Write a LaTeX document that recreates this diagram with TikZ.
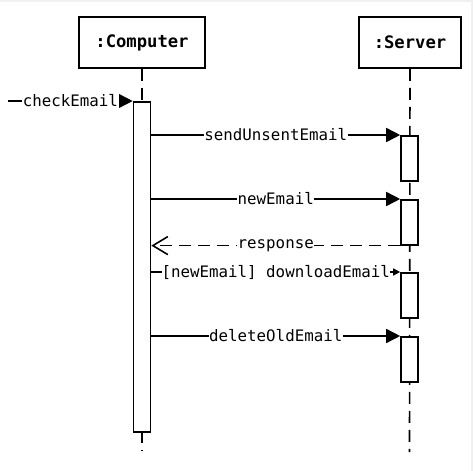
\documentclass[tikz,border=0pt]{standalone}
\usepackage{fontspec}
\setmonofont{DejaVu Sans Mono}
\usetikzlibrary{arrows.meta}
\begin{document}
\begin{tikzpicture}[x=1pt,y=-1pt,line width=1.6pt,
  obj/.style={draw,fill=white,inner sep=0pt,minimum height=51pt,font=\ttfamily\bfseries\fontsize{17.2}{20}\selectfont},
  act/.style={draw,fill=white,inner sep=0pt,minimum width=17pt,anchor=north},
  life/.style={dash pattern=on 12pt off 7pt},
  msg/.style={-{Triangle[length=14pt,width=14pt]}},
  lbl/.style={fill=white,inner sep=0.6pt,font=\ttfamily\fontsize{15.8}{18}\selectfont},
  ret/.style={dash pattern=on 12pt off 7pt,-{Straight Barb[length=15pt,width=18pt]}}]
\useasboundingbox (0,0) rectangle (474,471);
\draw[gray!12,line width=1.5pt] (0,1) -- (472,1) -- (472,471);
% objects
\node[obj,minimum width=126pt] (comp) at (142,42.5) {:Computer};
\node[obj,minimum width=102pt] (srv) at (410,42.5) {:Server};
% lifelines
\coordinate (compend) at (142,451);
\coordinate (srvend) at (409.5,452);
\coordinate (cb-top) at (142,101);
\draw[life] (comp.south) -- (cb-top);
\draw[life] (srv.south) -- (srvend);
\draw[life] (142,431) -- (compend);
% activation bars
\node[act,minimum height=330pt] (cb) at (142,101) {};
\node[act,minimum height=45pt] (s1) at (409.5,135) {};
\node[act,minimum height=45pt] (s2) at (409.5,199) {};
\node[act,minimum height=45pt] (s3) at (409.5,272) {};
\node[act,minimum height=45pt] (s4) at (409.5,336) {};
% incoming message
\coordinate (start) at (8,101);
\draw[msg] (start) -- (cb.north west) node[lbl,pos=0.5] (l0) {checkEmail};
% messages
\draw[msg] (cb.east |- s1.north) -- (s1.north west) node[lbl,midway] (l1) {sendUnsentEmail};
\draw[msg] (cb.east |- s2.north) -- (s2.north west) node[lbl,midway] (l2) {newEmail};
\draw[ret] (s2.south west) -- (cb.east |- s2.south) node[lbl,midway] (l3) {response};
\draw[-{Triangle[length=7pt,width=7pt]}] (cb.east |- s3.north) -- (s3.north west) node[lbl,midway,inner sep=0pt] (l4) {[newEmail] downloadEmail};
\draw[msg] (cb.east |- s4.north) -- (s4.north west) node[lbl,midway] (l5) {deleteOldEmail};
\end{tikzpicture}
\end{document}
